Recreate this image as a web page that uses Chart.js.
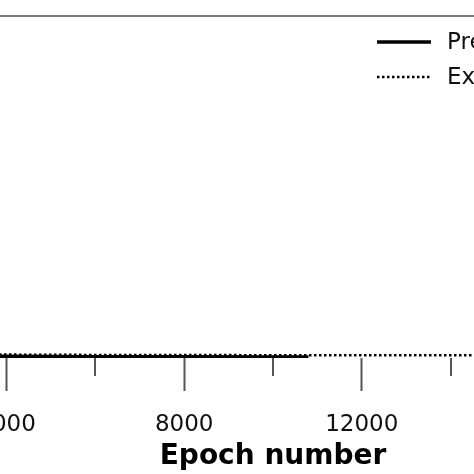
<!DOCTYPE html>
<html>
<head>
<meta charset="utf-8">
<script src="https://cdn.jsdelivr.net/npm/chart.js@4/dist/chart.umd.min.js"></script>
<style>
  html, body { margin: 0; padding: 0; background: #fff; overflow: hidden; }
  #wrap { position: relative; width: 474px; height: 474px; overflow: hidden; }
  #lossChart { position: absolute; left: -200px; top: 0; }
</style>
</head>
<body>
<div id="wrap"><canvas id="lossChart" width="947" height="474"></canvas></div>
<script>
'use strict';
// values (loss is already flat near zero in the visible part)
const seriesNames = ['Predicted', 'Expected'];
const predEpochs = [0, 2000, 4000, 6000, 8000, 10000, 10800];
const predValues = [0.006, 0.005, 0.005, 0.004, 0.004, 0.003, 0.003];
const expEpochs = [0, 2000, 4000, 6000, 8000, 10000, 12000, 14000, 16000, 18000, 20000];
const expValues = [0.011, 0.010, 0.010, 0.009, 0.009, 0.008, 0.008, 0.008, 0.008, 0.008, 0.008];
const xTicks = [0, 4000, 8000, 12000, 16000, 20000];

function toPoints(xs, ys) {
  let pts = [];
  for (let i = 0; i < xs.length; i++) {
    pts.push({ x: xs[i], y: ys[i] });
  }
  return pts;
}

// minor ticks and the legend drawn by hand
const extras = {
  id: 'extras',
  afterDraw(chart) {
    const ctx = chart.ctx;
    const xs = chart.scales.x;
    const area = chart.chartArea;
    ctx.save();
    ctx.strokeStyle = '#555';
    ctx.lineWidth = 2;
    for (let v = 2000; v < 20000; v += 4000) {
      const px = Math.round(xs.getPixelForValue(v));
      ctx.beginPath();
      ctx.moveTo(px, area.bottom);
      ctx.lineTo(px, area.bottom + 18);
      ctx.stroke();
    }

    // legend
    const lx = area.left + 548;
    const rows = [26, 61];
    ctx.font = '23px "DejaVu Sans"';
    ctx.textBaseline = 'middle';
    ctx.fillStyle = '#111';
    chart.data.datasets.forEach(function (ds, i) {
      const y = area.top + rows[i];
      ctx.strokeStyle = ds.borderColor;
      ctx.lineWidth = ds.borderWidth;
      ctx.setLineDash(ds.borderDash || []);
      ctx.beginPath();
      ctx.moveTo(lx, y);
      ctx.lineTo(lx + 54, y);
      ctx.stroke();
      ctx.setLineDash([]);
      ctx.fillText(ds.label, lx + 70, y + 1);
    });
    ctx.restore();
  }
};

const ctx = document.getElementById('lossChart').getContext('2d');
const chart = new Chart(ctx, {
  type: 'line',
  data: {
    datasets: [{
      label: seriesNames[0],
      data: toPoints(predEpochs, predValues),
      borderColor: '#000',
      borderWidth: 3.5,
      pointRadius: 0,
      tension: 0
    },
    {
      label: seriesNames[1],
      data: toPoints(expEpochs, expValues),
      borderColor: '#000',
      borderWidth: 2.5,
      borderDash: [2.5, 2.5],
      pointRadius: 0,
      tension: 0
    }]
  },
  options: {
    responsive: false,
    animation: false,
    devicePixelRatio: 1,
    layout: { padding: { left: 29, right: 30, top: 16, bottom: 0 } },
    plugins: { legend: { display: false }, tooltip: { enabled: false } },
    scales: {
      x: {
        type: 'linear',
        min: 0,
        max: 20000,
        afterBuildTicks: function (axis) {
          axis.ticks = xTicks.map(function (v) { return { value: v }; });
        },
        afterFit: function (axis) {
          axis.height = 116;
          axis.paddingLeft = 0;
          axis.paddingRight = 0;
        },
        grid: {
          drawOnChartArea: false,
          drawTicks: true,
          tickLength: 33,
          tickColor: '#555',
          tickWidth: 2
        },
        border: { display: false },
        ticks: {
          color: '#111',
          padding: 20,
          maxRotation: 0,
          callback: function (v) { return String(v); },
          font: { family: 'DejaVu Sans', size: 23 }
        },
        title: {
          display: true,
          text: 'Epoch number',
          color: '#000',
          padding: { top: 0, bottom: 0 },
          font: { family: 'DejaVu Sans', size: 28, weight: 'bold', lineHeight: 1.2 }
        }
      },
      x2: {
        type: 'linear',
        position: 'top',
        min: 0,
        max: 20000,
        afterFit: function (axis) {
          axis.height = 0;
          axis.paddingLeft = 0;
          axis.paddingRight = 0;
        },
        ticks: { display: false },
        grid: { display: false },
        border: { display: true, color: '#7a7a7a', width: 2 }
      },
      y: {
        display: false,
        min: 0,
        max: 1
      }
    }
  },
  plugins: [extras]
});
</script>
</body>
</html>
